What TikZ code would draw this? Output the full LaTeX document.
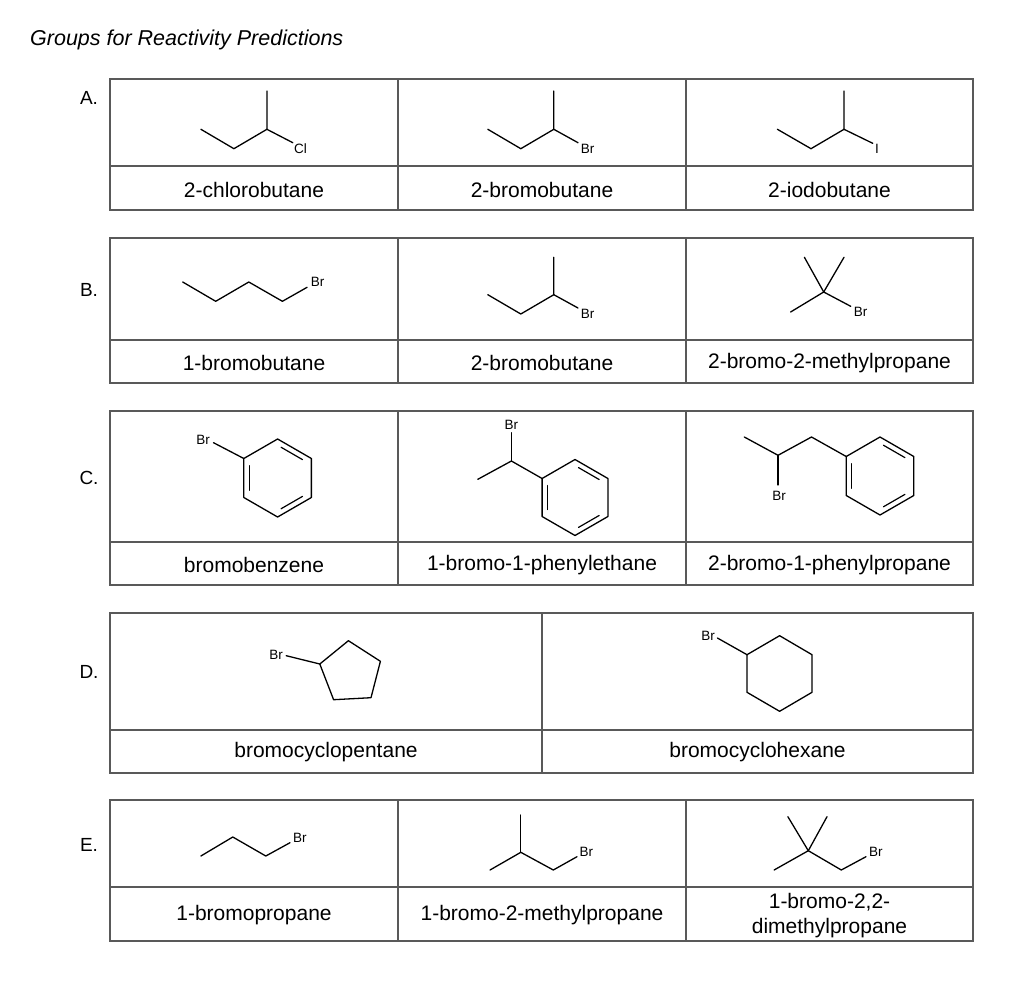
\documentclass[tikz,border=0pt]{standalone}
\usepackage{fontspec}
\setmainfont{Liberation Sans}
\usetikzlibrary{calc}
\begin{document}
\begin{tikzpicture}[x=1pt,y=-1pt,
  grid/.style={draw=black!65,line width=1.1pt},
  bond/.style={line width=1.3pt,line join=round,line cap=round},
  atom/.style={font=\fontsize{13.5}{13.5}\selectfont,inner sep=0pt},
  nm/.style={font=\fontsize{21}{25}\selectfont,inner sep=0pt,align=center},
  letter/.style={font=\fontsize{19}{19}\selectfont,inner sep=0pt}]
\useasboundingbox (0,0) rectangle (1024,992);
\fill[white] (0,0) rectangle (1024,992);
\node[font=\fontsize{21.5}{21.5}\selectfont\itshape,anchor=west,inner sep=0pt] (title) at (30,40) {Groups for Reactivity Predictions};
% tables
\foreach \t/\m/\b in {79/166/210,238/340/383,411/542/585,800/887/941}{
  \draw[grid] (110,\t) rectangle (973,\b);
  \draw[grid] (110,\m) -- (973,\m);
  \draw[grid] (398,\t) -- (398,\b);
  \draw[grid] (686,\t) -- (686,\b);}
\draw[grid] (110,613) rectangle (973,773);
\draw[grid] (110,730) -- (973,730);
\draw[grid] (542,613) -- (542,773);
% letters
\node[letter] (LA) at (89,98) {A.};
\node[letter] (LB) at (89,290) {B.};
\node[letter] (LC) at (89,478) {C.};
\node[letter] (LD) at (89,672) {D.};
\node[letter] (LE) at (89,845) {E.};
% names
\node[nm] (nA1) at (254,190) {2-chlorobutane};
\node[nm] (nA2) at (542,190) {2-bromobutane};
\node[nm] (nA3) at (829.5,190) {2-iodobutane};
\node[nm] (nB1) at (254,363) {1-bromobutane};
\node[nm] (nB2) at (542,363) {2-bromobutane};
\node[nm] (nB3) at (829.5,363) {2-bromo-2-methylpropane};
\node[nm] (nC1) at (254,565) {bromobenzene};
\node[nm] (nC2) at (542,565) {1-bromo-1-phenylethane};
\node[nm] (nC3) at (829.5,565) {2-bromo-1-phenylpropane};
\node[nm] (nD1) at (326,752) {bromocyclopentane};
\node[nm] (nD2) at (757.5,752) {bromocyclohexane};
\node[nm] (nE1) at (254,915) {1-bromopropane};
\node[nm] (nE2) at (542,915) {1-bromo-2-methylpropane};
\node[nm] (nE3) at (829.5,916) {1-bromo-2,2-\\dimethylpropane};
% A1
\coordinate (a1) at (200.9,129.3); \coordinate (a2) at (233.9,148.7);
\coordinate (a3) at (266.9,129.3); \coordinate (a4) at (266.9,91);
\coordinate (a5) at (292.8,142.7); \node[atom] (aX) at (300.5,149) {Cl};
\draw[bond] (a1)--(a2)--(a3)--(a4); \draw[bond] (a3)--(a5);
% A2
\coordinate (b1) at (487.8,129.3); \coordinate (b2) at (520.8,148.7);
\coordinate (b3) at (553.8,129.3); \coordinate (b4) at (553.8,91);
\coordinate (b5) at (578,142.7); \node[atom] (bX) at (587.5,149) {Br};
\draw[bond] (b1)--(b2)--(b3)--(b4); \draw[bond] (b3)--(b5);
% A3
\coordinate (c1) at (777.4,129.3); \coordinate (c2) at (811,148.7);
\coordinate (c3) at (844,129.3); \coordinate (c4) at (844,91);
\coordinate (c5) at (872.7,143.3); \node[atom] (cX) at (877,149.3) {I};
\draw[bond] (c1)--(c2)--(c3)--(c4); \draw[bond] (c3)--(c5);
% B1
\coordinate (d1) at (182.7,282); \coordinate (d2) at (215.7,301.3);
\coordinate (d3) at (248.8,282); \coordinate (d4) at (282.4,301.3);
\coordinate (d5) at (307.1,287.3); \node[atom] (dX) at (317.5,282.3) {Br};
\draw[bond] (d1)--(d2)--(d3)--(d4)--(d5);
% B2
\coordinate (e1) at (487.8,294.7); \coordinate (e2) at (520.8,314);
\coordinate (e3) at (553.8,294.7); \coordinate (e4) at (553.8,257.3);
\coordinate (e5) at (578,308); \node[atom] (eX) at (587.5,314) {Br};
\draw[bond] (e1)--(e2)--(e3)--(e4); \draw[bond] (e3)--(e5);
% B3
\coordinate (f0) at (823.7,292); \coordinate (f1) at (804.4,257.3);
\coordinate (f2) at (844,257.3); \coordinate (f3) at (790.6,312);
\coordinate (f5) at (850.7,306.3); \node[atom] (fX) at (860.5,312) {Br};
\draw[bond] (f0)--(f1); \draw[bond] (f0)--(f2); \draw[bond] (f0)--(f3); \draw[bond] (f0)--(f5);
% benzene macro
\newcommand{\benz}[4]{% name, cx, cy, r
  \coordinate (#1c) at (#2,#3);
  \foreach \i/\a in {1/90,2/30,3/-30,4/-90,5/-150,6/150}{
    \coordinate (#1\i) at ($(#1c)+({#4*cos(\a)},{-#4*sin(\a)})$);}
  \draw[bond] (#11)--(#12)--(#13)--(#14)--(#15)--(#16)--cycle;
  \foreach \p/\q in {1/2,3/4,5/6}{
    \draw[bond,line width=1.2pt,shorten <=4pt,shorten >=4pt] ($(#1c)!0.84!(#1\p)$) -- ($(#1c)!0.84!(#1\q)$);}
}
% C1
\benz{g}{277.6}{478}{39}
\coordinate (g7) at (213.5,442.7); \node[atom] (gX) at (203,440.3) {Br};
\draw[bond] (g6)--(g7);
% C2
\benz{h}{575}{497.5}{38}
\coordinate (h7) at (511.4,461); \coordinate (h8) at (477.8,479.3);
\coordinate (h9) at (511.4,432.7); \node[atom] (hX) at (511.4,425) {Br};
\draw[bond] (h6)--(h7)--(h8); \draw[bond] (h7)--(h9);
% C3
\benz{k}{880}{476}{39}
\coordinate (k7) at (811.5,437); \coordinate (k8) at (778,455.3);
\coordinate (k9) at (744.3,437); \coordinate (k10) at (778,485);
\node[atom] (kX) at (779,496) {Br};
\draw[bond] (k6)--(k7)--(k8)--(k9); \draw[bond] (k8)--(k10);
% D1
\coordinate (m1) at (319.8,664); \coordinate (m2) at (348.4,640.7);
\coordinate (m3) at (380.4,661.3); \coordinate (m4) at (371,697.7);
\coordinate (m5) at (333.6,699.7); \coordinate (m6) at (286.2,655.7);
\node[atom] (mX) at (276,654.7) {Br};
\draw[bond] (m1)--(m2)--(m3)--(m4)--(m5)--cycle; \draw[bond] (m1)--(m6);
% D2
\coordinate (n1) at (747,654.7); \coordinate (n2) at (779.6,635.7);
\coordinate (n3) at (812,654.7); \coordinate (n4) at (812,692.3);
\coordinate (n5) at (779.6,711.3); \coordinate (n6) at (747,692.3);
\coordinate (n7) at (717.4,638); \node[atom] (nX) at (708,636.3) {Br};
\draw[bond] (n1)--(n2)--(n3)--(n4)--(n5)--(n6)--cycle; \draw[bond] (n1)--(n7);
% E1
\coordinate (p1) at (200.9,856); \coordinate (p2) at (232.8,837);
\coordinate (p3) at (265.8,856); \coordinate (p4) at (290,842.7);
\node[atom] (pX) at (299.8,838.3) {Br};
\draw[bond] (p1)--(p2)--(p3)--(p4);
% E2
\coordinate (q1) at (490,870); \coordinate (q2) at (520.8,852.3);
\coordinate (q3) at (520.8,815); \coordinate (q4) at (553.3,870);
\coordinate (q5) at (577,856.7); \node[atom] (qX) at (586.3,851.7) {Br};
\draw[bond] (q1)--(q2)--(q4)--(q5); \draw[bond] (q2)--(q3);
% E3
\coordinate (r0) at (808.3,850.7); \coordinate (r1) at (787.9,816.7);
\coordinate (r2) at (827,816.7); \coordinate (r3) at (774.1,870);
\coordinate (r4) at (841.3,870); \coordinate (r5) at (866,856.7);
\node[atom] (rX) at (875.8,851.7) {Br};
\draw[bond] (r0)--(r1); \draw[bond] (r0)--(r2); \draw[bond] (r0)--(r3);
\draw[bond] (r0)--(r4)--(r5);
\end{tikzpicture}
\end{document}
